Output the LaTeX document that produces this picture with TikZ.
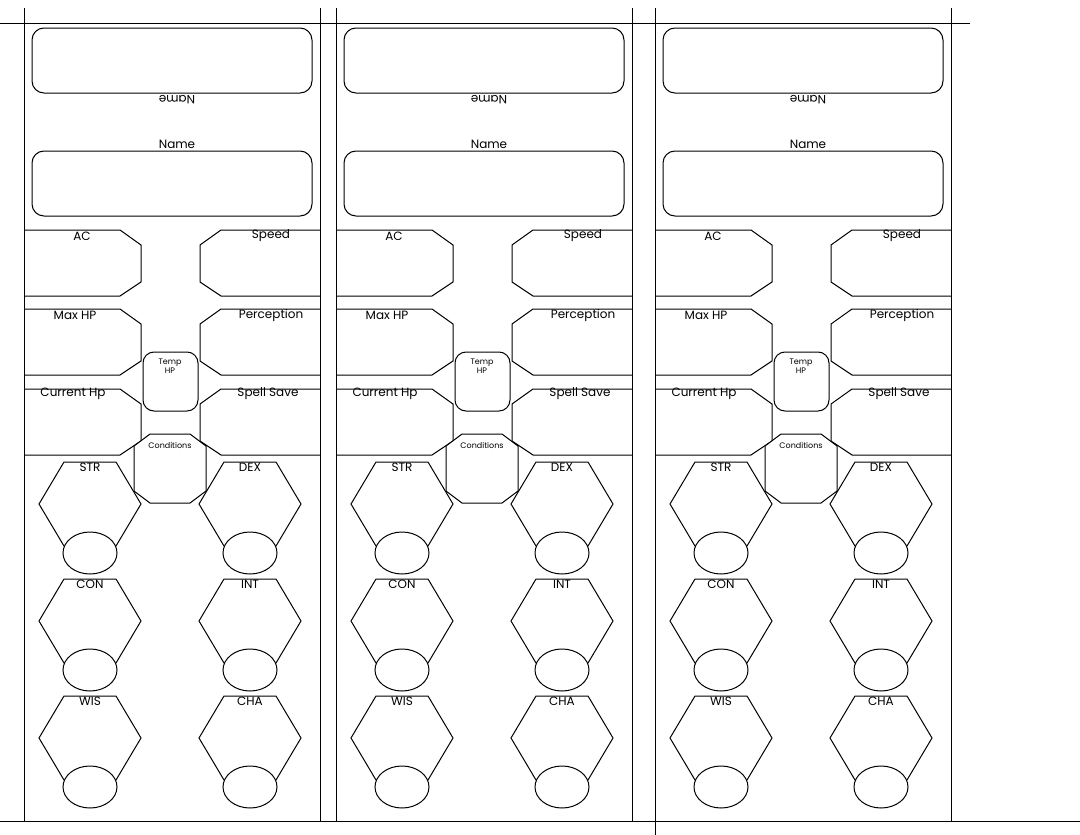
\documentclass[tikz,border=0pt]{standalone}
\usepackage{fontspec}
\setmainfont{Poppins}
\tikzset{ln/.style={line width=1pt,black},lbl/.style={font=\fontsize{12}{12}\selectfont,inner sep=0pt},
small/.style={font=\fontsize{8}{9}\selectfont,inner sep=0pt,align=center}}
\begin{document}
\begin{tikzpicture}[x=1pt,y=-1pt]
\fill[white] (0,0) rectangle (1080,835);
\useasboundingbox (0,0) rectangle (1080,835);
\draw[ln] (0,23) -- (970,23);
\draw[ln] (0,821) -- (1080,821);
\draw[ln] (655,8) -- (655,835);
\foreach \o in {0,312,631}{
\begin{scope}[xshift=\o pt]
\draw[ln] (24,8) -- (24,821);
\draw[ln] (320,8) -- (320,821);
\draw[ln,rounded corners=12pt] (32,28) rectangle (312,93);
\draw[ln,rounded corners=12pt] (32,151) rectangle (312,216);
\node[lbl,rotate=180] at (177,100) {Name};
\node[lbl] at (177,144) {Name};
\foreach \t/\b in {230/296,309/375,389/455}{
\draw[ln] (24,\t) -- (120,\t) -- (141,\t+15) -- (141,\b-14) -- (120,\b) -- (24,\b);
\draw[ln] (320,\t) -- (221,\t) -- (200,\t+15) -- (200,\b-14) -- (221,\b) -- (320,\b);
}
\node[lbl] at (82,236) {AC};
\node[lbl] at (271,236) {Speed};
\node[lbl] at (75,315) {Max HP};
\node[lbl] at (271,315) {Perception};
\node[lbl] at (73,394) {Current Hp};
\node[lbl] at (268,394) {Spell Save};
\draw[ln,fill=white,rounded corners=11pt] (143,352) rectangle (198,411);
\node[small] at (170,366) {Temp\\HP};
\draw[ln,fill=white] (150,434) -- (190,434) -- (206,446) -- (206,491) -- (190,503) -- (150,503) -- (134,491) -- (134,446) -- cycle;
\node[small] at (170,445) {Conditions};
\foreach \cx in {90,250}{
\foreach \ty in {462,579,696}{
\draw[ln] (\cx-26,\ty) -- (\cx+26,\ty) -- (\cx+51,\ty+42) -- (\cx+26,\ty+84) -- (\cx-26,\ty+84) -- (\cx-51,\ty+42) -- cycle;
\draw[ln,fill=white] (\cx,\ty+91) ellipse (27pt and 21pt);
}}
\node[lbl] at (90,467) {STR};
\node[lbl] at (250,467) {DEX};
\node[lbl] at (90,584) {CON};
\node[lbl] at (250,584) {INT};
\node[lbl] at (90,701) {WIS};
\node[lbl] at (250,701) {CHA};
\end{scope}}
\end{tikzpicture}
\end{document}
